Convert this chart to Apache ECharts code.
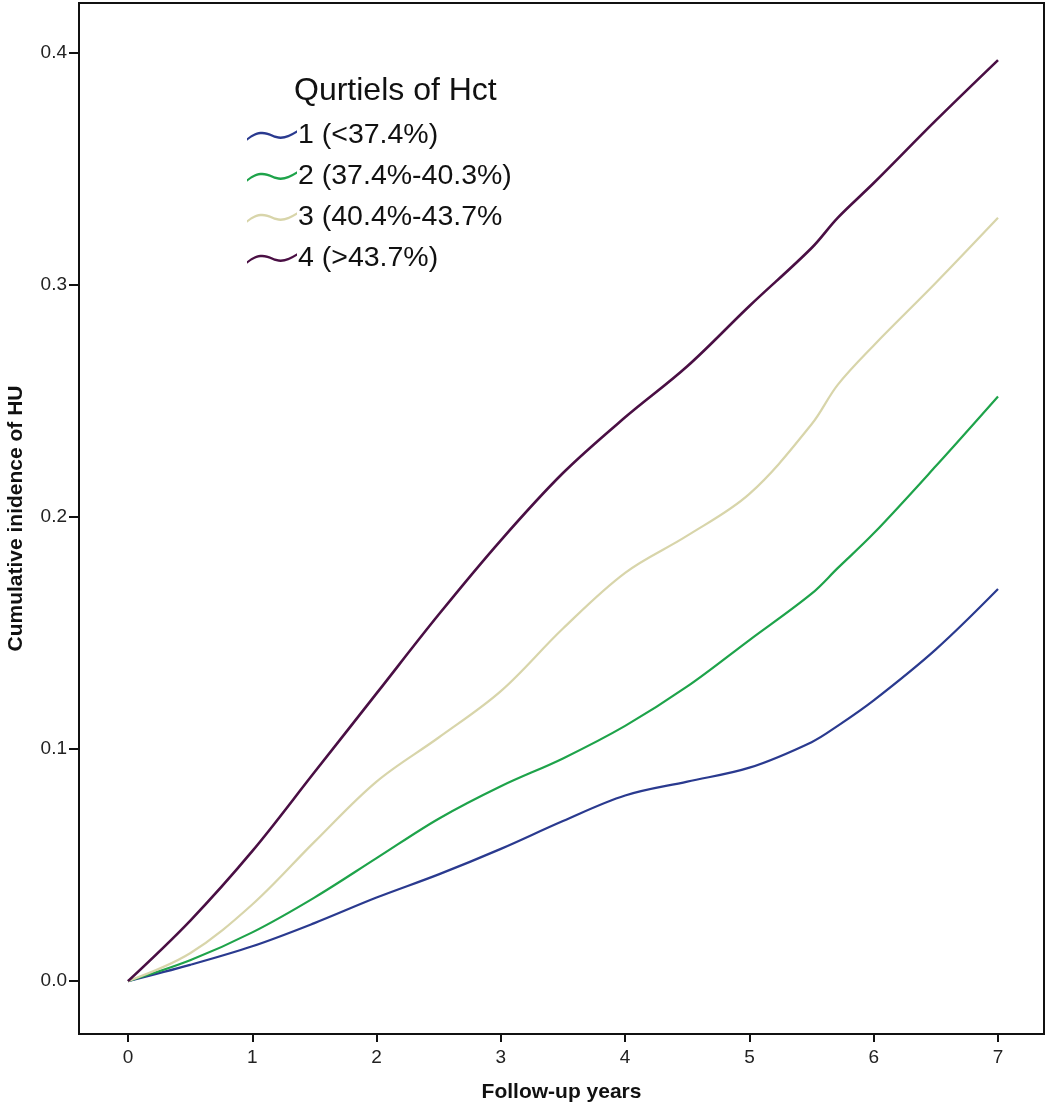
<!DOCTYPE html>
<html>
<head>
<meta charset="utf-8">
<script src="https://cdn.jsdelivr.net/npm/echarts@6/dist/echarts.min.js"></script>
<style>html,body{margin:0;padding:0;background:#fff}#c{width:1050px;height:1114px}</style>
</head>
<body>
<div id="c"></div>
<script>
const years = [0, 0.5, 1, 1.5, 2, 2.5, 3, 3.5, 4, 4.5, 5, 5.5, 5.71, 6, 6.5, 7];
const q1 = [0, 0.007, 0.015, 0.025, 0.036, 0.046, 0.057, 0.069, 0.080, 0.086, 0.092, 0.103, 0.110, 0.121, 0.143, 0.169];
const q2 = [0, 0.009, 0.021, 0.036, 0.053, 0.070, 0.084, 0.096, 0.110, 0.127, 0.147, 0.167, 0.178, 0.193, 0.222, 0.252];
const q3 = [0, 0.012, 0.033, 0.060, 0.086, 0.105, 0.125, 0.152, 0.176, 0.192, 0.210, 0.240, 0.257, 0.274, 0.301, 0.329];
const q4 = [0, 0.026, 0.056, 0.090, 0.124, 0.158, 0.190, 0.219, 0.243, 0.265, 0.291, 0.316, 0.329, 0.344, 0.371, 0.397];
const seriesNames = ['1 (<37.4%)', '2 (37.4%-40.3%)', '3 (40.4%-43.7%', '4 (>43.7%)'];
const seriesColors = ['#2a3a8f', '#1ea34a', '#d8d5aa', '#4a0f44'];
const xTicks = [0, 1, 2, 3, 4, 5, 6, 7];
const yTicks = [0, 0.1, 0.2, 0.3, 0.4];

const chart = echarts.init(document.getElementById('c'));
const font = '"Liberation Sans", Arial, sans-serif';
const wave = 'path://M0,7 C6,2 11,2 16,4.5 C21,7 26,6 32,2 L32,3.6 C26,7.6 21,8.6 16,6.1 C11,3.6 6,3.6 0,8.6 Z';
const all = [q1, q2, q3, q4];
chart.setOption({
  animation: false,
  backgroundColor: '#fff',
  title: {
    text: 'Qurtiels of Hct', left: 289, top: 70,
    textStyle: { fontFamily: font, fontSize: 32, fontWeight: 'normal', color: '#111' }
  },
  legend: {
    orient: 'vertical', left: 242, top: 116, itemGap: 12,
    itemWidth: 50, itemHeight: 14, icon: wave,
    data: seriesNames,
    textStyle: { fontFamily: font, fontSize: 28.5, color: '#111', padding: [0, 0, 0, -4] }
  },
  grid: { left: 79, right: 6, top: 3, bottom: 80, outerBoundsMode: 'none', containLabel: false,
          show: true, borderColor: '#111', borderWidth: 2, backgroundColor: 'transparent' },
  xAxis: {
    type: 'value', min: -0.394, max: 7.37,
    name: 'Follow-up years', nameLocation: 'middle', nameGap: 48,
    nameTextStyle: { fontFamily: font, fontSize: 21, fontWeight: 'bold', color: '#111' },
    splitLine: { show: false },
    axisLine: { show: true, onZero: false, lineStyle: { color: '#111', width: 2 } },
    axisTick: { show: true, length: 8, lineStyle: { color: '#111', width: 2 }, customValues: xTicks },
    axisLabel: { customValues: xTicks, fontFamily: font, fontSize: 19, color: '#222', margin: 14 }
  },
  yAxis: {
    type: 'value', min: -0.0228, max: 0.4216,
    name: 'Cumulative inidence of HU', nameLocation: 'middle', nameGap: 52,
    nameTextStyle: { fontFamily: font, fontSize: 21, fontWeight: 'bold', color: '#111' },
    splitLine: { show: false },
    axisLine: { show: true, onZero: false, lineStyle: { color: '#111', width: 2 } },
    axisTick: { show: true, length: 10, lineStyle: { color: '#111', width: 2 }, customValues: yTicks },
    axisLabel: { customValues: yTicks, fontFamily: font, fontSize: 19, color: '#222', margin: 12, formatter: v => v.toFixed(1) }
  },
  series: all.map((arr, i) => ({
    name: seriesNames[i], type: 'line', smooth: 0.35, showSymbol: false,
    color: seriesColors[i],
    lineStyle: { width: i === 3 ? 2.6 : 2.2, color: seriesColors[i] },
    data: years.map((y, j) => [y, arr[j]])
  }))
});
</script>
</body>
</html>
